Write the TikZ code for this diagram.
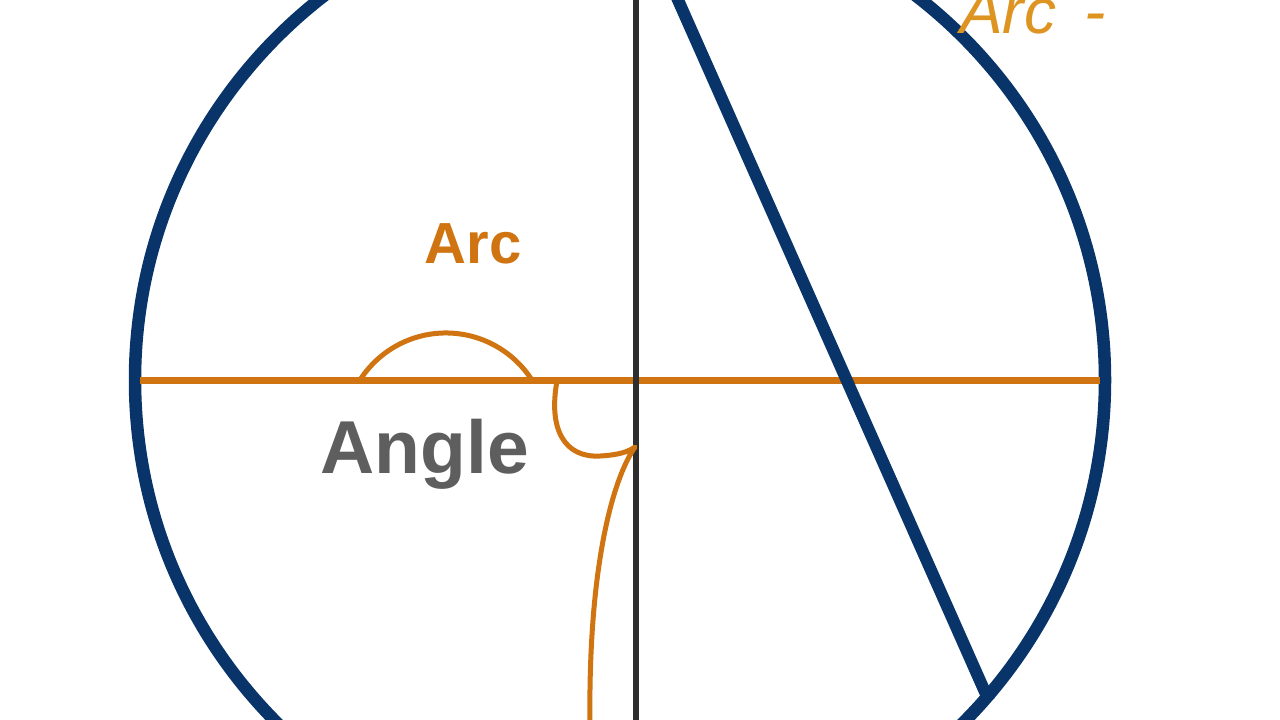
\documentclass[tikz,border=0pt]{standalone}
\usepackage{fontspec}
\setmainfont{Liberation Sans}
\definecolor{navy}{HTML}{083469}
\definecolor{orng}{HTML}{CF7411}
\definecolor{hand}{HTML}{DE9420}
\definecolor{txtgrey}{HTML}{5E5E5E}
\definecolor{axis}{HTML}{2E2E2E}
\tikzset{
  circ/.style={draw=navy,line width=12.5pt},
  chordline/.style={draw=navy,line width=12pt},
  diam/.style={draw=orng,line width=7pt},
  vert/.style={draw=axis,line width=5.5pt},
  orngstroke/.style={draw=orng,line width=5pt,line cap=round,line join=round},
  lbl/.style={inner sep=0pt,anchor=base}
}
\begin{document}
\begin{tikzpicture}[x=1pt,y=-1pt]
\useasboundingbox (0,0) rectangle (1280,720);
\fill[white] (0,0) rectangle (1280,720);
\clip (0,0) rectangle (1280,720);
\coordinate (O) at (620,380);
\coordinate (L) at (140,380);
\coordinate (R) at (1100,380);
\coordinate (VT) at (636,-10);
\coordinate (VB) at (636,730);
\coordinate (CT) at (631,-106);
\coordinate (CB) at (989,701);
% circle
\draw[circ] (O) circle[radius=485];
% horizontal diameter
\draw[diam] (L) -- (R);
% vertical line
\draw[vert] (VT) -- (VB);
% chord
\draw[chordline] (CT) -- (CB);
% small arc
\coordinate (A1) at (360,380);
\draw[orngstroke] (A1) arc[start angle=-147.4, end angle=-32.6, radius=102];
% angle mark with tail
\coordinate (M0) at (557,381);
\coordinate (M1) at (600,456);
\coordinate (M2) at (635,447);
\coordinate (M3) at (590,725);
\draw[orngstroke] (M0) .. controls (548,430) and (565,458) .. (M1)
  .. controls (618,455) and (628,452) .. (M2)
  .. controls (612,480) and (588,570) .. (M3);
% labels
\node[lbl,text=orng,font=\bfseries\fontsize{58}{60}\selectfont] (arc) at (473,263) {Arc};
\node[lbl,text=txtgrey,font=\bfseries\fontsize{75}{78}\selectfont] (angle) at (425,473) {Angle};
\node[lbl,text=hand,font=\itshape\fontsize{64}{66}\selectfont,anchor=base west] (arc2) at (960,34) {Arc\hspace{0.45em}-};
\end{tikzpicture}
\end{document}
